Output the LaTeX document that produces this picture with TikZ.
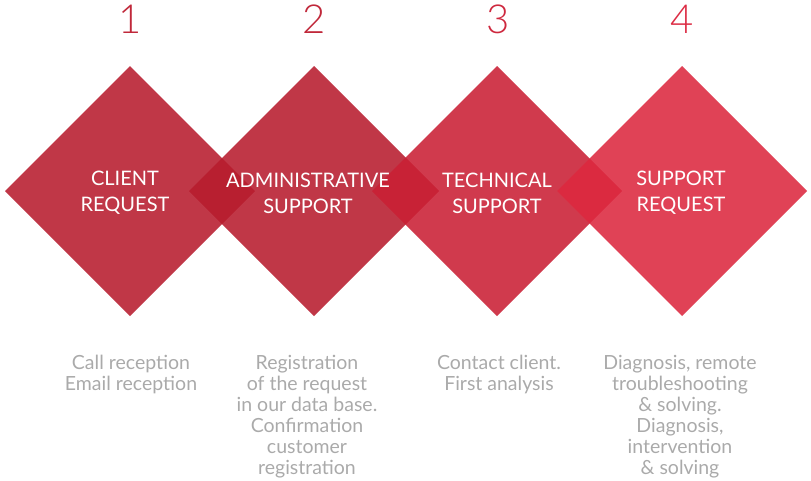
\documentclass[tikz,border=0pt]{standalone}
\usepackage{fontspec}
\setmainfont{Lato}
\newfontfamily\numfont{Lato Light}
\usetikzlibrary{shapes.geometric}
\definecolor{dA}{RGB}{183,27,45}
\definecolor{dC}{RGB}{202,31,52}
\definecolor{dD}{RGB}{220,40,63}
\definecolor{numA}{RGB}{192,40,58}
\definecolor{numC}{RGB}{206,40,62}
\definecolor{numD}{RGB}{220,44,68}
\definecolor{desc}{RGB}{170,170,170}
\tikzset{
  dia/.style={diamond, aspect=1, minimum width=250pt, minimum height=250pt, inner sep=0pt, outer sep=0pt, fill opacity=0.88, draw=none},
  lab/.style={text=white, font=\fontsize{20}{26}\selectfont, align=center, inner sep=0pt},
  num/.style={font=\numfont\fontsize{40}{40}\selectfont, anchor=base, inner sep=0pt},
  dsc/.style={text=desc, font=\fontsize{19.5}{21}\selectfont, align=center, anchor=north, inner sep=0pt}
}
\begin{document}
\begin{tikzpicture}[x=1pt,y=-1pt]
\useasboundingbox (0,0) rectangle (811,480);
\node[dia, fill=dA] (d1) at (130,191) {};
\node[dia, fill=dA] (d2) at (314,191) {};
\node[dia, fill=dC] (d3) at (497,191) {};
\node[dia, fill=dD] (d4) at (682,191) {};
\node[lab] (t1) at (125,193) {CLIENT\\REQUEST};
\node[lab] (t2) at (308,193) {ADMINISTRATIVE\\SUPPORT};
\node[lab] (t3) at (497,193) {TECHNICAL\\SUPPORT};
\node[lab] (t4) at (681,193) {SUPPORT\\REQUEST};
\node[num, text=numA] (n1) at (130,33) {1};
\node[num, text=numA] (n2) at (314,33) {2};
\node[num, text=numC] (n3) at (498,33) {3};
\node[num, text=numD] (n4) at (682,33) {4};
\node[dsc] (s1) at (131,355) {Call reception\\Email reception};
\node[dsc] (s2) at (307,355) {Registration\\of the request\\in our data base.\\Confirmation\\customer\\registration};
\node[dsc] (s3) at (499,355) {Contact client.\\First analysis};
\node[dsc] (s4) at (680,355) {Diagnosis, remote\\troubleshooting\\\& solving.\\Diagnosis,\\intervention\\\& solving};
\end{tikzpicture}
\end{document}
